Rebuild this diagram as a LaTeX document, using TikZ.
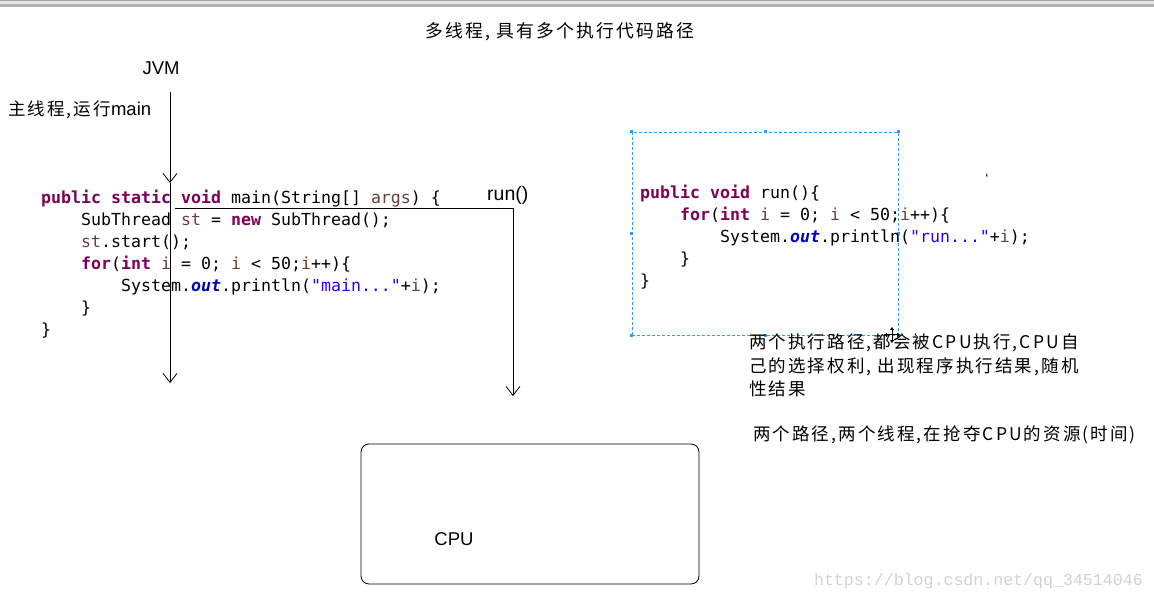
\documentclass[tikz,border=0pt]{standalone}
\usepackage{fontspec}
\setmainfont{Liberation Sans}
\setmonofont{DejaVu Sans Mono}
\newfontfamily\cjk[LetterSpace=12]{Noto Sans CJK SC}
\newfontfamily\urlfont{Liberation Mono}
\usetikzlibrary{arrows.meta,positioning}
\definecolor{kwcol}{RGB}{127,0,85}
\definecolor{varcol}{RGB}{106,62,62}
\definecolor{fldcol}{RGB}{0,0,192}
\definecolor{strcol}{RGB}{42,0,255}
\definecolor{selcol}{RGB}{51,153,255}
\newcommand{\kw}[1]{\textcolor{kwcol}{\bfseries #1}}
\newcommand{\vr}[1]{\textcolor{varcol}{#1}}
\newcommand{\fld}[1]{\textcolor{fldcol}{\bfseries\itshape #1}}
\newcommand{\jstr}[1]{\textcolor{strcol}{#1}}
\newcommand{\indt}{\hphantom{0000}}

\begin{document}
\begin{tikzpicture}[x=1pt,y=-1pt,
   flow/.style={-{Straight Barb[length=9pt,width=14pt]}, line width=0.8pt},
   code/.style={anchor=north west, inner sep=0pt, align=left,
     font=\ttfamily\fontsize{16.6}{22}\selectfont},
   label/.style={inner sep=0pt, font=\fontsize{18.5}{20}\selectfont},
   note/.style={inner sep=0pt, align=left, font=\cjk\fontsize{17.5}{23.5}\selectfont},
   selbox/.style={draw=selcol, dashed, dash pattern=on 3pt off 2pt, line width=0.7pt}]
  \useasboundingbox (0,0) rectangle (1154,601);
  % window edge
  \fill[gray!75] (0,0) rectangle (1154,1.5);
  \fill[gray!20] (0,1.5) rectangle (1154,4);
  \fill[gray!60] (0,4) rectangle (1154,7);

  \node[label, font=\cjk\fontsize{17.8}{20}\selectfont] (title) at (560,32) {多线程, 具有多个执行代码路径};
  \node[label] (jvm) at (161,68) {JVM};
  \node[label, anchor=west] (mainThread) at (8,110) {{\cjk\fontsize{17.5}{20}\selectfont 主线程,运行}main};

  % main()
  \node[code] (mainCode) at (41,190) {%
    \kw{public static void} main(String[] \vr{args}) \{\\
    \indt SubThread \vr{st} = \kw{new} SubThread();\\
    \indt \vr{st}.start();\\
    \indt \kw{for}(\kw{int} \vr{i} = 0; \vr{i} < 50;\vr{i}++)\{\\
    \indt\indt System.\fld{out}.println(\jstr{"main..."}+\vr{i});\\
    \indt \}\\
    \}};
  \node[label, anchor=west, font=\fontsize{19.5}{20}\selectfont] (runCall) at (487,195) {run()};

  \coordinate (mainTop) at (170,92);
  \coordinate (mainMid) at (170,183);
  \coordinate (mainEnd) at (170,383);
  \coordinate (fork) at (175,208);
  \coordinate (runTop) at (513,208);
  \coordinate (runEnd) at (513,396);
  \draw[flow] (mainTop) -- (mainMid);
  \draw[flow] (mainMid) -- (mainEnd);
  \draw[flow] (fork) -- (runTop) -- (runEnd);

  % run()
  \node[selbox, minimum width=266pt, minimum height=203pt] (runSel) at (765,233.5) {};
  \foreach \h in {north west,north,north east,east,south east,south,south west,west}
    \fill[selcol] ([shift={(-1.5,-1.5)}]runSel.\h) rectangle ++(3,3);
  \node[code] (runCode) at (640,185) {%
    \kw{public void} run()\{\\
    \indt \kw{for}(\kw{int} \vr{i} = 0; \vr{i} < 50;\vr{i}++)\{\\
    \indt\indt System.\fld{out}.println(\jstr{"run..."}+\vr{i});\\
    \indt \}\\
    \}};
  \node[inner sep=0pt, font=\fontsize{14}{14}\selectfont] (tick) at (987,179) {`};
  % cursor
  \draw[-{Triangle[length=3pt,width=4pt]}, line width=1pt] (892,335) -- (892,327);
  \draw[-{Triangle[length=3pt,width=4pt]}, line width=1pt] (892,335) -- (892,343);
  \draw[-{Triangle[length=3pt,width=4pt]}, line width=1pt] (892,335) -- (884,335);
  \draw[-{Triangle[length=3pt,width=4pt]}, line width=1pt] (892,335) -- (900,335);

  \node[note, anchor=north west] (remark) at (749,334) {两个执行路径,都会被CPU执行,CPU自\\己的选择权利, 出现程序执行结果,随机\\性结果};
  \node[note, anchor=west] (race) at (753,435) {两个路径,两个线程,在抢夺CPU的资源(时间)};

  % CPU
  \node[draw, rounded corners=8pt, line width=0.8pt, minimum width=338pt, minimum height=140pt] (cpu) at (530,514) {};
  \node[label] (cpuLabel) at (454,539) {CPU};
  \node[inner sep=0pt, font=\urlfont\fontsize{16.6}{20}\selectfont, text=gray!35, anchor=east] (mark) at (1143,581) {https://blog.csdn.net/qq\_34514046};
\end{tikzpicture}
\end{document}
